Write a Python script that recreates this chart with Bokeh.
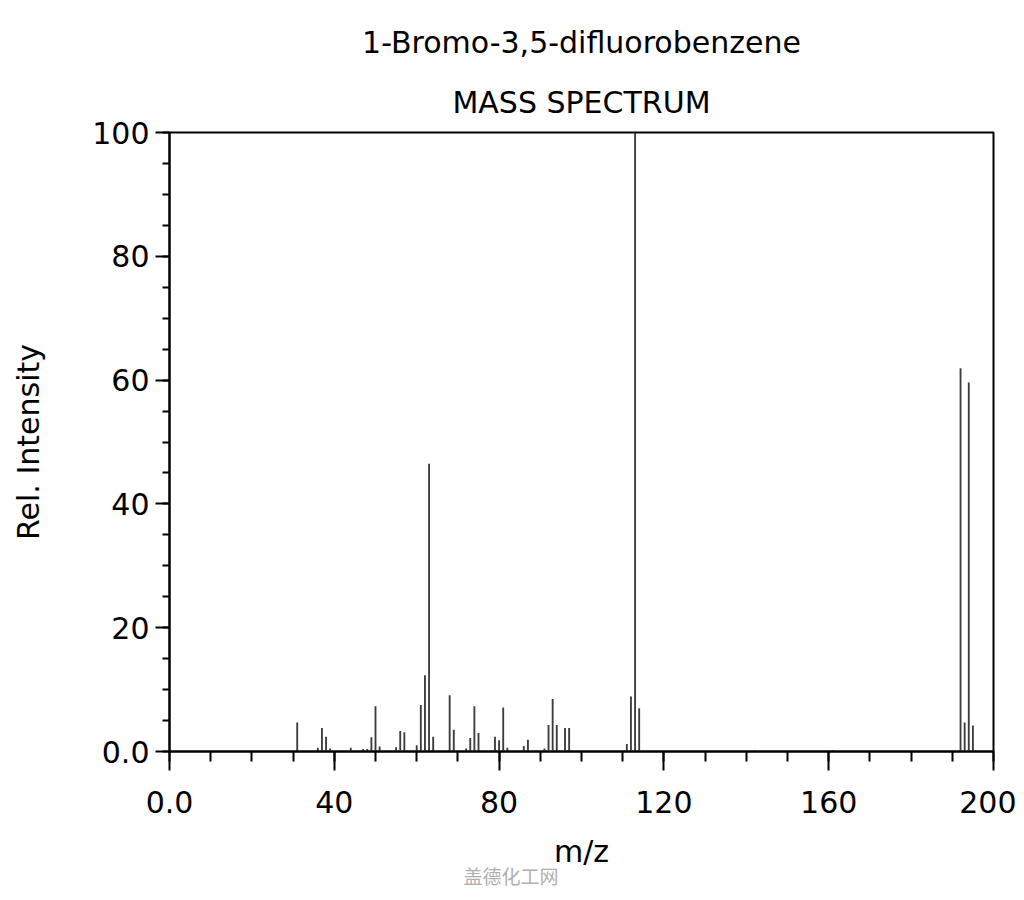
from bokeh.plotting import figure
from bokeh.models import Range1d, FixedTicker, Title, ColumnDataSource
from bokeh.models import CustomJSTickFormatter
from bokeh.embed import file_html
from bokeh.resources import INLINE

# m/z values and relative intensities
mz = [31, 36, 37, 38, 39, 44, 47, 48, 49, 50, 51, 55, 56, 57, 60, 61, 62, 63, 64,
      68, 69, 72, 73, 74, 75, 79, 80, 81, 82, 86, 87, 91, 92, 93, 94, 96, 97,
      111, 112, 113, 114, 142, 161, 192, 193, 194, 195]
intensity = [4.7, 0.6, 3.8, 2.4, 0.5, 0.6, 0.4, 0.4, 2.3, 7.3, 0.8, 0.7, 3.3, 3.1, 1.0, 7.5, 12.3, 46.5, 2.4,
             9.1, 3.5, 0.5, 2.2, 7.3, 3.0, 2.4, 1.8, 7.1, 0.6, 0.9, 1.9, 0.5, 4.3, 8.5, 4.3, 3.8, 3.8,
             1.2, 8.9, 100.0, 7.0, 0.2, 0.2, 61.9, 4.7, 59.6, 4.2]

x_major = [0, 40, 80, 120, 160, 200]
x_minor = list(range(0, 201, 10))
y_major = [0, 20, 40, 60, 80, 100]
y_minor = list(range(0, 101, 5))

title_1 = "1-Bromo-3,5-difluorobenzene"
title_2 = "MASS SPECTRUM"
x_label = "m/z"
y_label = "Rel. Intensity"
watermark = "盖德化工网"

FONT = "DejaVu Sans"

p = figure(width=1016, height=900, output_backend="svg", toolbar_location=None,
           x_range=Range1d(0, 200), y_range=Range1d(0, 100),
           min_border_left=169, min_border_right=23, min_border_top=132, min_border_bottom=149)
p.title.visible = False
p.grid.visible = False
p.outline_line_color = "black"
p.outline_line_width = 2
p.background_fill_color = "white"
p.border_fill_color = "white"

src = ColumnDataSource(dict(x=mz, top=intensity))
p.vbar(x="x", top="top", bottom=0, width=0.45, source=src,
       fill_color="#3c3c3c", line_color=None)

fmt = CustomJSTickFormatter(code="return tick == 0 ? '0.0' : tick.toFixed(0);")

xa = p.xaxis[0]
xa.ticker = FixedTicker(ticks=x_major, minor_ticks=x_minor)
xa.formatter = fmt
xa.axis_label = x_label
xa.major_tick_out = 19
xa.major_tick_in = 0
xa.minor_tick_out = 10
xa.minor_tick_in = 0
xa.axis_line_width = 2
xa.major_tick_line_width = 2
xa.minor_tick_line_width = 2
xa.major_label_text_font = FONT
xa.major_label_text_font_size = "30px"
xa.major_label_text_color = "black"
xa.major_label_standoff = 20
xa.axis_label_text_font = FONT
xa.axis_label_text_font_size = "30px"
xa.axis_label_text_font_style = "normal"
xa.axis_label_text_color = "black"
xa.axis_label_standoff = 18

ya = p.yaxis[0]
ya.ticker = FixedTicker(ticks=y_major, minor_ticks=y_minor)
ya.formatter = fmt
ya.axis_label = y_label
ya.major_tick_out = 14
ya.major_tick_in = 0
ya.minor_tick_out = 7
ya.minor_tick_in = 0
ya.axis_line_width = 2
ya.major_tick_line_width = 2
ya.minor_tick_line_width = 2
ya.major_label_text_font = FONT
ya.major_label_text_font_size = "30px"
ya.major_label_text_color = "black"
ya.major_label_standoff = 6
ya.axis_label_text_font = FONT
ya.axis_label_text_font_size = "30px"
ya.axis_label_text_font_style = "normal"
ya.axis_label_text_color = "black"
ya.axis_label_standoff = 43

p.add_layout(Title(text=title_2, align="center", text_font=FONT, text_font_size="30px",
                   text_font_style="normal", text_color="black", standoff=26), "above")
p.add_layout(Title(text=title_1, align="center", text_font=FONT, text_font_size="30px",
                   text_font_style="normal", text_color="black", standoff=20), "above")
p.add_layout(Title(text=watermark, align="left", offset=294, text_font="Noto Sans CJK SC",
                   text_font_size="19px", text_font_style="normal", text_color="#b0b0b0",
                   standoff=-23), "below")

open("out.html", "w").write(file_html(p, INLINE))
